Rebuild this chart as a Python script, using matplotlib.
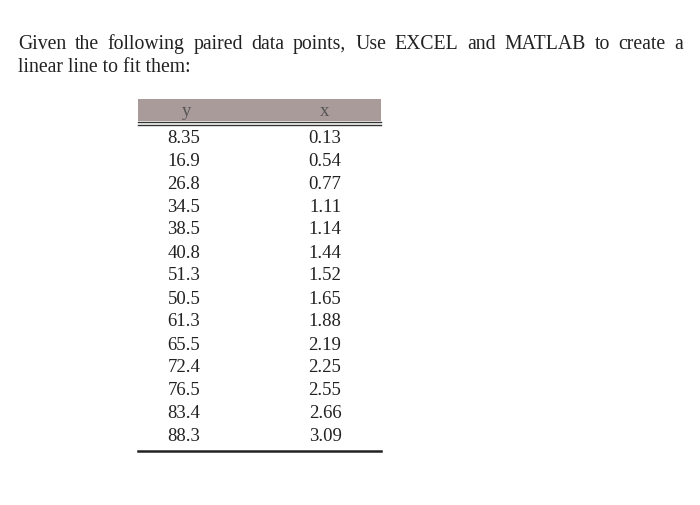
import matplotlib.pyplot as plt
from matplotlib.patches import Rectangle

y_vals = ["8.35", "16.9", "26.8", "34.5", "38.5", "40.8", "51.3", "50.5",
          "61.3", "65.5", "72.4", "76.5", "83.4", "88.3"]
x_vals = ["0.13", "0.54", "0.77", "1.11", "1.14", "1.44", "1.52", "1.65",
          "1.88", "2.19", "2.25", "2.55", "2.66", "3.09"]

plt.rcParams['font.family'] = ['Liberation Serif', 'DejaVu Serif']

fig = plt.figure(figsize=(7, 5.06), dpi=100)
ax = fig.add_axes([0, 0, 1, 1])
ax.set_xlim(0, 700)
ax.set_ylim(506, 0)
ax.axis('off')

# justified first line of the question
line1 = "Given the following paired data points, Use EXCEL and MATLAB to create a".split()
texts = [ax.text(0, 44, w, fontsize=14.2, va='center', color='#222222') for w in line1]
fig.canvas.draw()
r = fig.canvas.get_renderer()
widths = [t.get_window_extent(r).width for t in texts]
left, right = 18, 683
gap = (right - left - sum(widths)) / (len(widths) - 1)
pos = left
for t, w in zip(texts, widths):
    t.set_x(pos)
    pos += w + gap
ax.text(18, 67, "linear line to fit them:", fontsize=14.2, va='center', color='#222222')

# header band
ax.add_patch(Rectangle((138, 100), 243, 22, facecolor='#a99b99', edgecolor='none'))
ax.plot([138, 381], [122.5, 122.5], color='#333333', lw=1)
ax.plot([138, 381], [125.5, 125.5], color='#333333', lw=1)
ax.text(186, 111, "y", fontsize=13.5, ha='center', va='center', color='#555555')
ax.text(325, 111, "x", fontsize=13.5, ha='center', va='center', color='#555555')

for i, (yv, xv) in enumerate(zip(y_vals, x_vals)):
    row = 138 + i * 23
    ax.text(184, row, yv, fontsize=13.5, ha='center', va='center', color='#222222')
    ax.text(325, row, xv, fontsize=13.5, ha='center', va='center', color='#222222')

ax.plot([138, 381], [452, 452], color='#222222', lw=1.8)

fig.savefig("out.png", dpi=100, facecolor='white')
